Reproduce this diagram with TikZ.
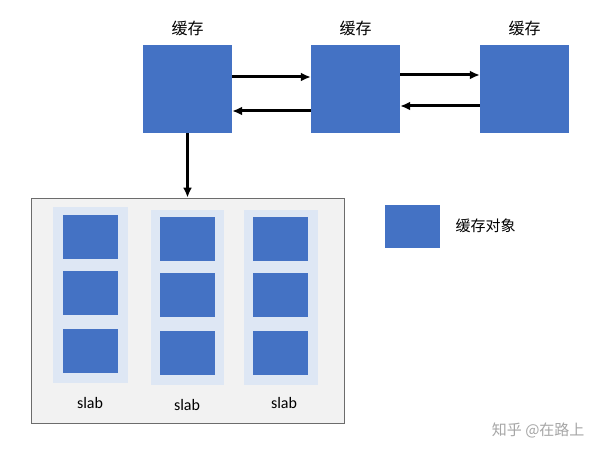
\documentclass[tikz,border=0pt]{standalone}
\usepackage{fontspec}
\setmainfont{Carlito}
\newfontfamily\cjk{Noto Sans CJK SC}
\usetikzlibrary{arrows.meta}
\definecolor{blue1}{HTML}{4472C4}
\definecolor{slabc}{HTML}{DEE7F4}
\begin{document}
\begin{tikzpicture}[x=1pt,y=-1pt,
  blk/.style={fill=blue1,draw=none},
  arr/.style={-{Latex[length=10pt,width=9pt]},line width=3pt},
  lbl/.style={font=\cjk\fontsize{16}{18}\selectfont}]
\useasboundingbox[fill=white] (0,0) rectangle (600,454);
\node[minimum width=89pt,minimum height=88pt,inner sep=0,blk] (c1) at (187.5,89) {};
\node[minimum width=89pt,minimum height=88pt,inner sep=0,blk] (c2) at (355.5,89) {};
\node[minimum width=89pt,minimum height=88pt,inner sep=0,blk] (c3) at (524.5,89) {};
\foreach \n in {c1,c2,c3} \node[lbl] at ([yshift=16pt]\n.north) {缓存};
\draw[arr] (c1.east|-0,77) -- (c2.west|-0,77);
\draw[arr] (c2.west|-0,111) -- (c1.east|-0,111);
\draw[arr] (c2.east|-0,75) -- (c3.west|-0,75);
\draw[arr] (c3.west|-0,106) -- (c2.east|-0,106);
\node[draw=gray!85!black,fill=gray!10,minimum width=313pt,minimum height=225pt,inner sep=0,line width=0.8pt] (big) at (187.5,310.5) {};
\draw[arr] (c1.south) -- (big.north);
\fill[slabc] (53,207) rectangle (128,383);
\fill[slabc] (151,210) rectangle (224,385);
\fill[slabc] (244,210) rectangle (318,385);
\foreach \y in {215,271,329} \fill[blue1] (63,\y) rectangle (118,\y+44);
\foreach \y in {217,273,331} {\fill[blue1] (160,\y) rectangle (215,\y+44);
  \fill[blue1] (253,\y) rectangle (308,\y+44);}
\node[font=\fontsize{16}{18}\selectfont] (s1) at (90,403) {slab};
\node[font=\fontsize{16}{18}\selectfont] (s2) at (187,405) {slab};
\node[font=\fontsize{16}{18}\selectfont] (s3) at (284,403) {slab};
\node[blk,minimum width=55pt,minimum height=43pt,inner sep=0] (leg) at (412.5,226.5) {};
\node[anchor=west,font=\cjk\fontsize{15}{17}\selectfont] (legt) at (452,226) {缓存对象};
\node[font=\cjk\fontsize{15}{17}\selectfont,text=gray!70,anchor=east] (wm) at (588,430) {知乎 @在路上};
\end{tikzpicture}
\end{document}
